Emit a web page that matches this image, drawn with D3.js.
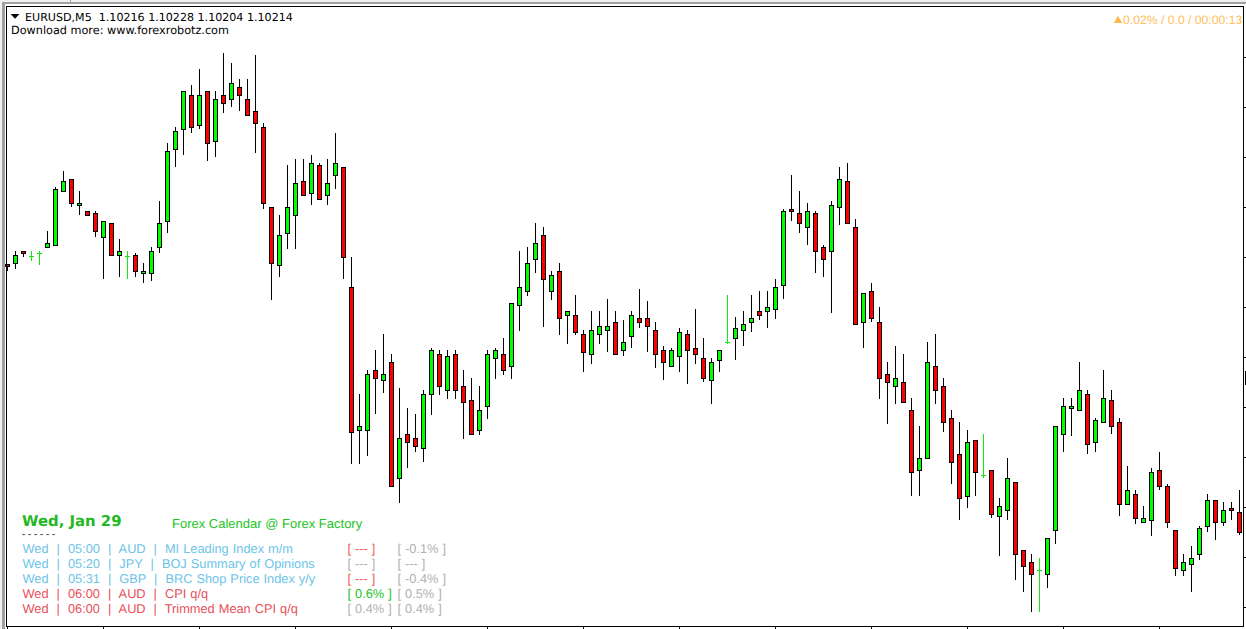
<!DOCTYPE html>
<html>
<head>
<meta charset="utf-8">
<script src="https://cdn.jsdelivr.net/npm/d3@7/dist/d3.min.js"></script>
<style>
html,body{margin:0;padding:0;background:#fff;overflow:hidden}
svg{display:block}
text{white-space:pre;text-rendering:geometricPrecision}
</style>
</head>
<body>
<svg id="chart" width="1246" height="629"></svg>
<script>
// Prices are in points above 1.10000
const opens=[348,348.5,354.5,352,353.5,356.5,357.5,384.5,390.5,377.5,374.5,373.5,361.5,368.5,352.5,352,352.5,343.5,343.5,356.5,369.5,405.5,415.5,432.5,417.5,434.5,409.5,432.5,430.5,436.5,430.5,424.5,416.5,376.5,347.5,363.5,372.5,389.5,383.5,397.5,382.5,392.5,396.5,336.5,265,265,295,290,299,241,263,261,256,283,303,285,303,287,280,265,277,301,303,297,327.5,334.5,350.5,362.5,334.5,344.5,322.5,322.5,313,303,313,315,319,305,312,321,321,315,305,297,302,313,306,301,290,300,309,311,315,319,324.5,324.5,325.5,337.5,375.5,373.5,366.5,373.5,356.5,354.5,376.5,389.5,366.5,319,334.5,319,293,287,289,275,245,251,297,287,271,253,232,260,242.5,245,222,225,239,205,199,195,193,215,263,276,275,283,259,269,280,269,228,233,219,220,245,237,215,195,198,203,217,230,219,226,224];
const highs=[348,354.5,354.5,354.5,354.5,364.5,386.5,394.5,390.5,384.5,374.5,374.5,369.5,368.5,360.5,354.5,353.5,348.5,356.5,379.5,408.5,416.5,434.5,437.5,445.5,434.5,434.5,453.5,448.5,440.5,440.5,452.5,418.5,376.5,372.5,397.5,400.5,400.5,402.5,398.5,400.5,413.5,396.5,351.5,283,295,305,313,303,286,276,273,285,306,305,305,305,295,291,287,305,306,311,328.5,354.5,356.5,368.5,366.5,344.5,348.5,324.5,332.5,315,324.5,324.5,330.5,324.5,320,324.5,335.5,329.5,319,307,306,316,315,325.5,311,301,305,332.5,321.5,324.5,332.5,334.5,334.5,340.5,375.5,392.5,384.5,378.5,374.5,357.5,379.5,396.5,398.5,370.5,333.5,338.5,326.5,299,307,303,281,267,309,313,291,275,269,265,260,263,245,231,251,239,205,203,201,211,267,281,281,299,285,271,295,285,271,247,235,227,246,254,238,215,203,207,217,233,230,229,229,235];
const lows=[345,346,352,350,348,356.5,357.5,384.5,377,373,372.5,362,341,352.5,342,341,342,339,340,354,364,397,403,414,416,400,402,424,427,425,422.5,404,376,330.5,342,356,356,382.5,378,380.5,378,386,341,248.5,248.5,252.5,273.5,284,237,229,246.5,254.5,249.5,273,283,281,281,261,263,263,271,291,293,291,315,332.5,344,317,330.5,313,308.5,313,294.5,298.5,308.5,304.5,303,302.5,306.5,316.5,304.5,296.5,290.5,297,294.5,288.5,298.5,289.5,278.5,294.5,308.5,300.5,307.5,314.5,320.5,316.5,321,331,370,364,358,344,342,324,368,368.5,318,306.5,319.5,281,268.5,278.5,279,232.5,232.5,251,278.5,264.5,238.5,220.5,226.5,232.5,241.5,221.5,202.5,220.5,190.5,184.5,174.5,174.5,186.5,208.5,254.5,262.5,275,253.5,254.5,269,263.5,222.5,228,218.5,219,212.5,235.5,216.5,192.5,192.5,184.5,200.5,214.5,210.5,217.5,220.5,213];
const closes=[347,352.5,353.5,352,353.5,358.5,385.5,389.5,378.5,378.5,372.5,364.5,369.5,352.5,354.5,352,344.5,344.5,354.5,368.5,404.5,414.5,434.5,416.5,432.5,408.5,430.5,428.5,438.5,432.5,422.5,418.5,378.5,348.5,362.5,376.5,388.5,382.5,398.5,380.5,388.5,398.5,351.5,264,267,293,291,293,237,261,259,257,283,305,287,302,285,279,263,275,303,305,295,328.5,336.5,348.5,358.5,340.5,342.5,321,324.5,314,304,315,317,317,303,309,322.5,319,317,303,299,305,314,305,303,291,299,305,309,316,318,321,322.5,326.5,336.5,374.5,374.5,368.5,374.5,354.5,350.5,377.5,390.5,368.5,318,333.5,321,291,289,291,279,244,251,299,285,269,249,231,259,244,242.5,223,227,241,203,197,193,195,211,267,277,277,285,258,270,281,267,228,235,221,221,244,237,219,196,199,201,216,230,219,225,225,214];

const eventRows=["Wed  |  05:00  |  AUD  |  MI Leading Index m/m","Wed  |  05:20  |  JPY  |  BOJ Summary of Opinions","Wed  |  05:31  |  GBP  |  BRC Shop Price Index y/y","Wed  |  06:00  |  AUD  |  CPI q/q","Wed  |  06:00  |  AUD  |  Trimmed Mean CPI q/q"];
const eventImpact=["low","low","low","high","high"];
const actuals=["[ --- ]","[ --- ]","[ --- ]","[ 0.6% ]","[ 0.4% ]"];
const actualTone=["bad","none","bad","good","none"];
const previous=["[ -0.1% ]","[ --- ]","[ -0.4% ]","[ 0.5% ]","[ 0.4% ]"];

const symbolLine="EURUSD,M5  1.10216 1.10228 1.10204 1.10214";
const promoLine="Download more: www.forexrobotz.com";
const statusLine="0.02% / 0.0 / 00:00:13";
const calendarDate="Wed, Jan 29";
const calendarTitle="Forex Calendar @ Forex Factory";
const calendarRule="------";

const yTicks=[451.5,426.5,401.5,376.5,351.5,326.5,301.5,276.5,251.5,226.5,201.5,176.5];
const xTicks=[0,12,24,36,48,60,72,84,96,108,120,132,144];

const svg=d3.select("#chart");
const x=d3.scaleLinear().domain([0,154]).range([7.5,1239.5]);
const y=d3.scaleLinear().domain([480,160]).range([0.5,640.5]);

// window chrome around the chart
const chrome=svg.append("g");
chrome.append("rect").attr("x",0).attr("y",0).attr("width",1246).attr("height",2).attr("fill","#f0f0f0");
chrome.append("rect").attr("x",0).attr("y",2).attr("width",1246).attr("height",2).attr("fill","#a0a0a0");
chrome.append("rect").attr("x",0).attr("y",0).attr("width",2).attr("height",629).attr("fill","#f0f0f0");
chrome.append("rect").attr("x",2).attr("y",2).attr("width",3).attr("height",627).attr("fill","#a0a0a0");
chrome.append("rect").attr("x",70).attr("y",0).attr("width",1).attr("height",2).attr("fill","#a0a0a0");

// candles
const candles=d3.range(opens.length).map(i=>({i,o:opens[i],h:highs[i],l:lows[i],c:closes[i]}));
const plot=svg.append("g").attr("class","candles");
const dojiColor="#10e810";
const g=plot.selectAll("g").data(candles).join("g");
g.append("line")
 .attr("x1",d=>x(d.i)).attr("x2",d=>x(d.i))
 .attr("y1",d=>y(d.h)-0.5).attr("y2",d=>y(d.l)+0.5)
 .attr("stroke",d=>d.o===d.c?dojiColor:"#000").attr("stroke-width",1);
g.filter(d=>d.o===d.c).append("line")
 .attr("x1",d=>x(d.i)-2.5).attr("x2",d=>x(d.i)+2.5)
 .attr("y1",d=>y(d.o)).attr("y2",d=>y(d.o))
 .attr("stroke",dojiColor).attr("stroke-width",1);
g.filter(d=>d.o!==d.c).append("rect")
 .attr("x",d=>x(d.i)-2).attr("width",4)
 .attr("y",d=>y(Math.max(d.o,d.c)))
 .attr("height",d=>Math.abs(y(d.o)-y(d.c)))
 .attr("fill",d=>d.c>d.o?"#00ff00":"#ff0000")
 .attr("stroke","#000").attr("stroke-width",1);

// frame and axes
svg.append("rect").attr("x",6.5).attr("y",6.5).attr("width",1237).attr("height",620)
 .attr("fill","none").attr("stroke","#000").attr("stroke-width",1);
const yAxis=svg.append("g").attr("transform","translate(1243.5,0)")
 .call(d3.axisRight(y).tickValues(yTicks).tickSize(3).tickFormat("").offset(0));
const xAxis=svg.append("g").attr("transform","translate(0,626.5)")
 .call(d3.axisBottom(x).tickValues(xTicks).tickSize(3).tickFormat("").offset(0));
[yAxis,xAxis].forEach(a=>{a.select(".domain").remove();a.selectAll(".tick line").attr("stroke","#000");});
svg.append("line").attr("x1",1245.5).attr("x2",1245.5).attr("y1",371).attr("y2",385).attr("stroke","#000");

function label(tx,ty,s,fill,font,size,weight){
  return svg.append("text").attr("x",tx).attr("y",ty).text(s).attr("fill",fill)
   .attr("font-family",font).attr("font-size",size).attr("font-weight",weight||"normal");
}
const ui="'DejaVu Sans'", ar="'Liberation Sans'";

// header
svg.append("path").attr("d",d3.symbol(d3.symbolTriangle,34)()).attr("transform","translate(15,15.6) scale(1,-0.62)").attr("fill","#000");
label(25,21,symbolLine,"#000",ui,11.1);
label(11,34,promoLine,"#000",ui,11.25);
svg.append("path").attr("d",d3.symbol(d3.symbolTriangle,30)()).attr("transform","translate(1118,20.5)").attr("fill","#ffb84d");
label(1123,24,statusLine,"#ffbe5c",ar,12.2);

// calendar
label(22,526,calendarDate,"#22b822",ui,14.9,"bold");
label(172,528,calendarTitle,"#22c422",ar,13);
label(22,537,calendarRule,"#505050",ar,9.5,"bold").attr("letter-spacing",2.85);
const rowY=d3.scalePoint().domain(d3.range(5)).range([553,613]);
const toneColor={bad:"#f06050",none:"#b0b0b0",good:"#22c422"};
eventRows.forEach((t,i)=>{
  label(22.5,rowY(i),t,eventImpact[i]==="high"?"#e8505a":"#6cc4e8",ar,12.8).attr("word-spacing",0.45);
  label(347.5,rowY(i),actuals[i],toneColor[actualTone[i]],ar,12.8).attr("word-spacing",0.45);
  label(397.5,rowY(i),previous[i],"#b0b0b0",ar,12.8).attr("word-spacing",0.45);
});
</script>
</body>
</html>
